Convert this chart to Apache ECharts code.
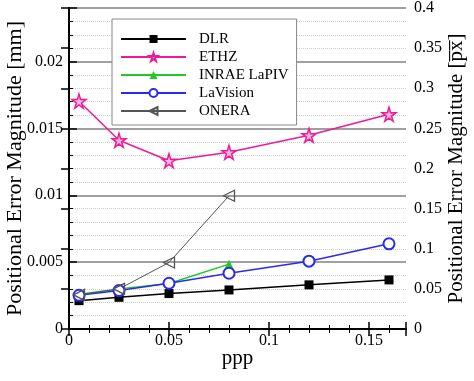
<!DOCTYPE html>
<html><head><meta charset="utf-8">
<script src="https://cdn.jsdelivr.net/npm/echarts@6/dist/echarts.min.js"></script>
<style>html,body{margin:0;padding:0;background:#fff}#c{width:474px;height:381px}</style>
</head><body><div id="c"></div>
<script>
const ppp = [0.005, 0.025, 0.05, 0.08, 0.12, 0.16];
const dlr = [0.00212, 0.00237, 0.00265, 0.00292, 0.0033, 0.00367];
const ethz = [0.01703, 0.01411, 0.01258, 0.01321, 0.01448, 0.01605];
const inrae = [0.0026, 0.0030, 0.0034, 0.00485];
const lavision = [0.00252, 0.00287, 0.00342, 0.00417, 0.00507, 0.00637];
const onera = [0.00255, 0.0030, 0.00497, 0.00996];
const names = ['DLR', 'ETHZ', 'INRAE LaPIV', 'LaVision', 'ONERA'];

const FONT = "'Liberation Serif','Times New Roman',serif";
const STAR = 'path://M50,0 L61,35 L98,35 L68,57 L79,91 L50,70 L21,91 L32,57 L2,35 L39,35 Z';
const LEFTTRI = 'path://M0,50 L100,0 L100,100 Z';
const pair = (ys) => ys.map((y, i) => [ppp[i], y]);

const chart = echarts.init(document.getElementById('c'));
const axisLine = {show: true, lineStyle: {color: '#000', width: 2}};
chart.setOption({
  animation: false,
  backgroundColor: '#fff',
  grid: {left: 69, right: 68, top: 8, bottom: 52, containLabel: false, outerBoundsMode: 'none'},
  legend: {
    orient: 'vertical', left: 112, top: 19,
    data: names,
    backgroundColor: '#fff', borderColor: '#888', borderWidth: 1,
    padding: [12, 8, 6, 8],
    itemWidth: 65, itemHeight: 10, itemGap: 2,
    textStyle: {fontFamily: FONT, fontSize: 15, lineHeight: 16, color: '#000', padding: [0, 0, 0, 8]}
  },
  xAxis: [{
    type: 'value', min: 0, max: 0.1685, interval: 0.05,
    name: 'ppp', nameLocation: 'middle', nameGap: 19, nameMoveOverlap: false,
    nameTextStyle: {fontFamily: FONT, fontSize: 21, color: '#000'},
    axisLine: axisLine,
    axisTick: {inside: true, length: 7, lineStyle: {color: '#000', width: 1.5}},
    minorTick: {show: true, splitNumber: 5, length: 4, lineStyle: {color: '#000', width: 1}},
    axisLabel: {fontFamily: FONT, fontSize: 16, color: '#000', margin: 4, showMaxLabel: false},
    splitLine: {show: false}
  }, {
    type: 'value', position: 'top', min: 0, max: 0.1685, interval: 0.05,
    axisLine: axisLine,
    axisTick: {inside: true, length: 7, lineStyle: {color: '#000', width: 1.5}},
    minorTick: {show: true, splitNumber: 5, length: 4, lineStyle: {color: '#000', width: 1}},
    axisLabel: {show: false},
    splitLine: {show: false}
  }],
  yAxis: [{
    type: 'value', min: 0, max: 0.024, interval: 0.005,
    name: 'Positional Error Magnitude [mm]', nameLocation: 'middle', nameGap: 43, nameMoveOverlap: false,
    nameTextStyle: {fontFamily: FONT, fontSize: 22, color: '#000'},
    axisLine: axisLine,
    axisTick: {inside: true, length: 8, lineStyle: {color: '#000', width: 1.5}},
    minorTick: {show: true, splitNumber: 5, length: 4, lineStyle: {color: '#000', width: 1}},
    axisLabel: {fontFamily: FONT, fontSize: 16, color: '#000', margin: 6, showMaxLabel: false},
    splitLine: {show: true, lineStyle: {color: '#808080', width: 1.5}},
    minorSplitLine: {show: true, lineStyle: {color: '#cfcfcf', width: 1, type: 'dotted'}}
  }, {
    type: 'value', position: 'right', min: 0, max: 0.4, interval: 0.05,
    name: 'Positional Error Magnitude [p\u0305x\u0305]', nameLocation: 'middle', nameGap: 40, nameMoveOverlap: false,
    nameRotate: 90,
    nameTextStyle: {fontFamily: FONT, fontSize: 21, color: '#000'},
    axisLine: axisLine,
    axisTick: {inside: true, length: 8, lineStyle: {color: '#000', width: 1.5}},
    axisLabel: {fontFamily: FONT, fontSize: 16, color: '#000', margin: 8},
    splitLine: {show: false}
  }],
  series: [
    {name: 'DLR', type: 'line', data: pair(dlr), symbol: 'rect', symbolSize: 9,
     itemStyle: {color: '#000'}, lineStyle: {color: '#000', width: 1.5}},
    {name: 'ETHZ', type: 'line', data: pair(ethz), symbol: STAR, symbolSize: 14,
     itemStyle: {color: '#f7b6dc', borderColor: '#ee1a9a', borderWidth: 1.5},
     lineStyle: {color: '#ee1a9a', width: 1.5}},
    {name: 'INRAE LaPIV', type: 'line', data: pair(inrae), symbol: 'triangle', symbolSize: 9,
     itemStyle: {color: '#22c922'}, lineStyle: {color: '#22c922', width: 1.5}},
    {name: 'LaVision', type: 'line', data: pair(lavision), symbol: 'emptyCircle', symbolSize: 11,
     itemStyle: {color: '#2a2af0', borderWidth: 1.3}, lineStyle: {color: '#2a2af0', width: 1.5}},
    {name: 'ONERA', type: 'line', data: pair(onera), symbol: LEFTTRI, symbolSize: 11,
     itemStyle: {color: 'rgba(255,255,255,0)', borderColor: '#555', borderWidth: 1.3},
     lineStyle: {color: '#555', width: 1}}
  ]
});
</script></body></html>
